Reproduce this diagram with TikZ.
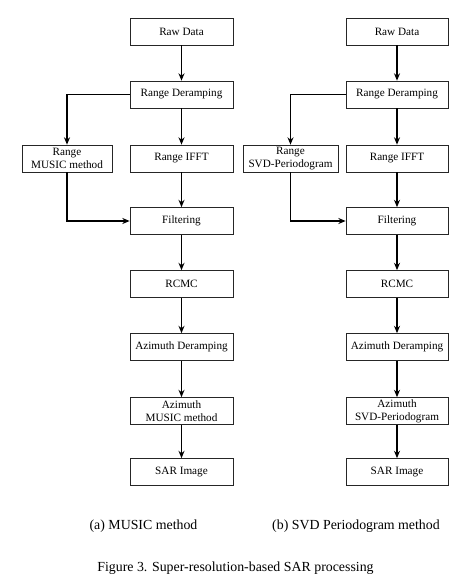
\documentclass[tikz,border=0pt]{standalone}
\usepackage{fontspec}
\setmainfont{Liberation Serif}
\usetikzlibrary{arrows.meta}
\begin{document}
\begin{tikzpicture}[x=0.75pt,y=-0.75pt,
  box/.style={draw=black!85,line width=0.5pt,minimum height=27*0.75pt,inner sep=0pt,align=center,font=\fontsize{8.4}{9.6}\selectfont},
  boxL/.style={box,minimum width=103*0.75pt},
  boxR/.style={box,minimum width=102*0.75pt},
  flow/.style={line width=0.9pt,-{Stealth[length=5.5pt,width=4.5pt]}},
  captext/.style={font=\fontsize{10.4}{12}\selectfont}]
\useasboundingbox (0,0) rectangle (474,577);
% left column
\node[boxL] (rawA) at (181.5,31.5) {Raw Data};
\node[boxL] (rdA) at (181.5,94.5) {Range Deramping};
\node[boxL] (ifftA) at (181.5,158.5) {Range IFFT};
\node[box,minimum width=90*0.75pt] (musA) at (67,158.5) {Range\\MUSIC method};
\node[boxL] (filA) at (181.5,221) {Filtering};
\node[boxL] (rcmcA) at (181.5,284) {RCMC};
\node[boxL] (adA) at (181.5,347) {Azimuth Deramping};
\node[boxL] (amA) at (181.5,411) {Azimuth\\MUSIC method};
\node[boxL] (sarA) at (181.5,472) {SAR Image};
\draw[flow] (rawA) -- (rdA);
\draw[flow] (rdA) -- (ifftA);
\draw[flow] (rdA.west) -| (musA.north);
\draw[flow] (ifftA) -- (filA);
\draw[flow] (musA.south) |- (filA.west);
\draw[flow] (filA) -- (rcmcA);
\draw[flow] (rcmcA) -- (adA);
\draw[flow] (adA) -- (amA);
\draw[flow] (amA) -- (sarA);
% right column
\node[boxR] (rawB) at (397,31.5) {Raw Data};
\node[boxR] (rdB) at (397,94.5) {Range Deramping};
\node[boxR] (ifftB) at (397,158.5) {Range IFFT};
\node[box,minimum width=95*0.75pt] (svdB) at (290.5,158.5) {Range\\SVD-Periodogram};
\node[boxR] (filB) at (397,221) {Filtering};
\node[boxR] (rcmcB) at (397,284) {RCMC};
\node[boxR] (adB) at (397,347) {Azimuth Deramping};
\node[boxR] (amB) at (397,411) {Azimuth\\SVD-Periodogram};
\node[boxR] (sarB) at (397,472) {SAR Image};
\draw[flow] (rawB) -- (rdB);
\draw[flow] (rdB) -- (ifftB);
\draw[flow] (rdB.west) -| (svdB.north);
\draw[flow] (ifftB) -- (filB);
\draw[flow] (svdB.south) |- (filB.west);
\draw[flow] (filB) -- (rcmcB);
\draw[flow] (rcmcB) -- (adB);
\draw[flow] (adB) -- (amB);
\draw[flow] (amB) -- (sarB);
% captions
\node[captext] (capA) at (143.5,526) {(a) MUSIC method};
\node[captext] (capB) at (356,526) {(b) SVD Periodogram method};
\node[captext] (capF) at (235.5,568) {Figure 3. Super-resolution-based SAR processing};
\end{tikzpicture}
\end{document}
